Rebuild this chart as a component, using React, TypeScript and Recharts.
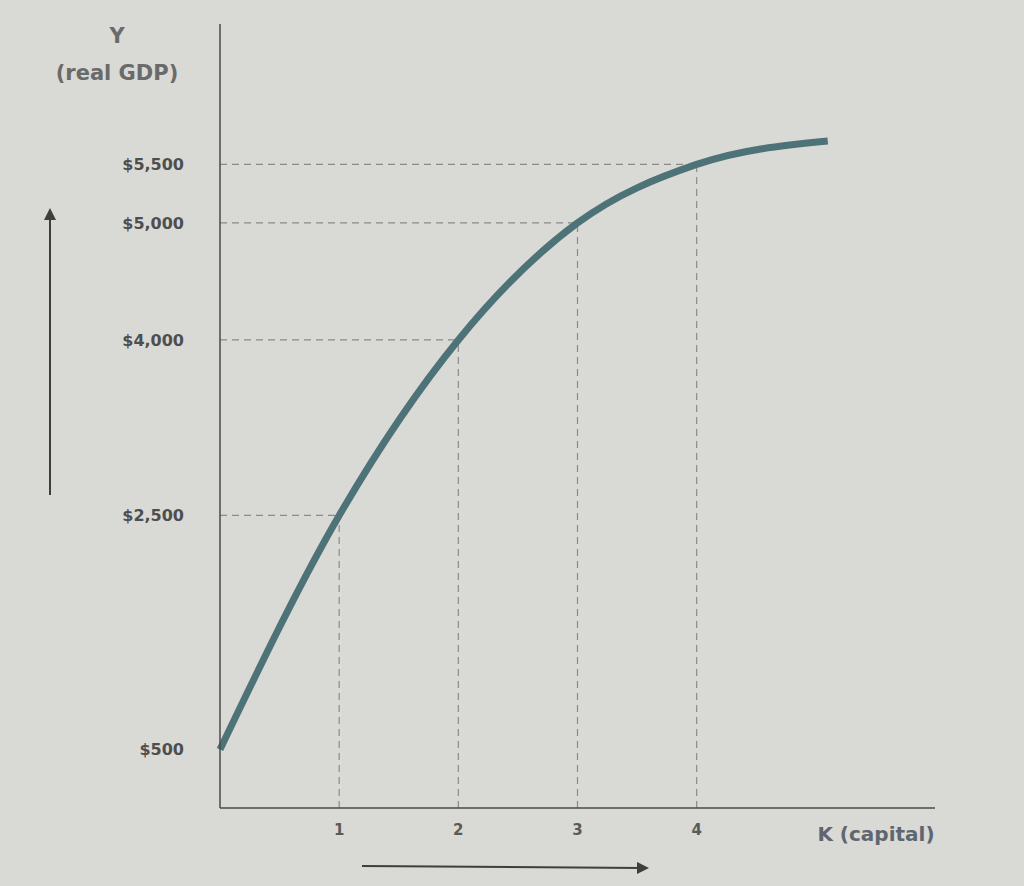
import { LineChart, Line, XAxis, YAxis, ReferenceLine } from 'recharts'

// production function: capital K vs real GDP Y
const capital = [0, 1, 2, 3, 4, 5.1]
const realGdp = [500, 2500, 4000, 5000, 5500, 5700]

const xTicks = [1, 2, 3, 4]
const yTicks = [500, 2500, 4000, 5000, 5500]

// dashed guide lines drop from these curve points to both axes
const guideK = [1, 2, 3, 4]
const guideY = [2500, 4000, 5000, 5500]

const data = capital.map((k, i) => ({ k, y: realGdp[i] }))

const font = '"DejaVu Sans", Verdana, sans-serif'
const axisColor = '#4a4a4a'
const guideColor = '#8a8a8a'

export default function App() {
  return (
    <div
      style={{
        position: 'absolute',
        left: 0,
        top: 0,
        width: 1024,
        height: 886,
        background: '#d9d9d5',
        fontFamily: font,
      }}
    >
      <LineChart
        width={1024}
        height={886}
        data={data}
        margin={{ top: 24, right: 89, bottom: 38, left: 150 }}
      >
        <XAxis
          dataKey="k"
          type="number"
          domain={[0, 6]}
          ticks={xTicks}
          tickLine={false}
          axisLine={{ stroke: axisColor, strokeWidth: 1.5 }}
          tick={{ fill: '#5a5a5a', fontSize: 15, fontWeight: 700, fontFamily: font }}
          tickMargin={10}
          height={40}
        />
        <YAxis
          type="number"
          domain={[0, 6700]}
          ticks={yTicks}
          tickLine={false}
          axisLine={{ stroke: axisColor, strokeWidth: 1.5 }}
          tick={{ fill: '#4e4e4e', fontSize: 16, fontWeight: 700, fontFamily: font }}
          tickFormatter={(v: number) => `$${v.toLocaleString('en-US')}`}
          tickMargin={30}
          width={70}
        />
        {guideK.map((k, i) => (
          <ReferenceLine
            key={`h${k}`}
            segment={[{ x: 0, y: guideY[i] }, { x: k, y: guideY[i] }]}
            stroke={guideColor}
            strokeDasharray="7 5"
            strokeWidth={1.2}
          />
        ))}
        {guideK.map((k, i) => (
          <ReferenceLine
            key={`v${k}`}
            segment={[{ x: k, y: 0 }, { x: k, y: guideY[i] }]}
            stroke={guideColor}
            strokeDasharray="7 5"
            strokeWidth={1.2}
          />
        ))}
        <Line
          type="monotone"
          dataKey="y"
          stroke="#4d7378"
          strokeWidth={7}
          dot={false}
          isAnimationActive={false}
        />
      </LineChart>
      <svg
        width={1024}
        height={886}
        style={{ position: 'absolute', left: 0, top: 0, pointerEvents: 'none' }}
      >
        <defs>
          <marker id="head" viewBox="0 0 10 10" refX="5" refY="5" markerWidth="6" markerHeight="6" orient="auto">
            <path d="M0,0 L10,5 L0,10 z" fill="#3e3e3e" />
          </marker>
        </defs>
        <text x={117} y={43} textAnchor="middle" fontSize={21} fontWeight={700} fill="#6a6a6a" fontFamily={font}>
          Y
        </text>
        <text x={117} y={80} textAnchor="middle" fontSize={21} fontWeight={700} fill="#6a6a6a" fontFamily={font}>
          (real GDP)
        </text>
        <text x={876} y={841} textAnchor="middle" fontSize={20} fontWeight={700} fill="#5e6670" fontFamily={font}>
          K (capital)
        </text>
        <line x1={50} y1={495} x2={50} y2={214} stroke="#3e3e3e" strokeWidth={2} markerEnd="url(#head)" />
        <line x1={362} y1={866} x2={643} y2={868} stroke="#3e3e3e" strokeWidth={2} markerEnd="url(#head)" />
      </svg>
    </div>
  )
}
